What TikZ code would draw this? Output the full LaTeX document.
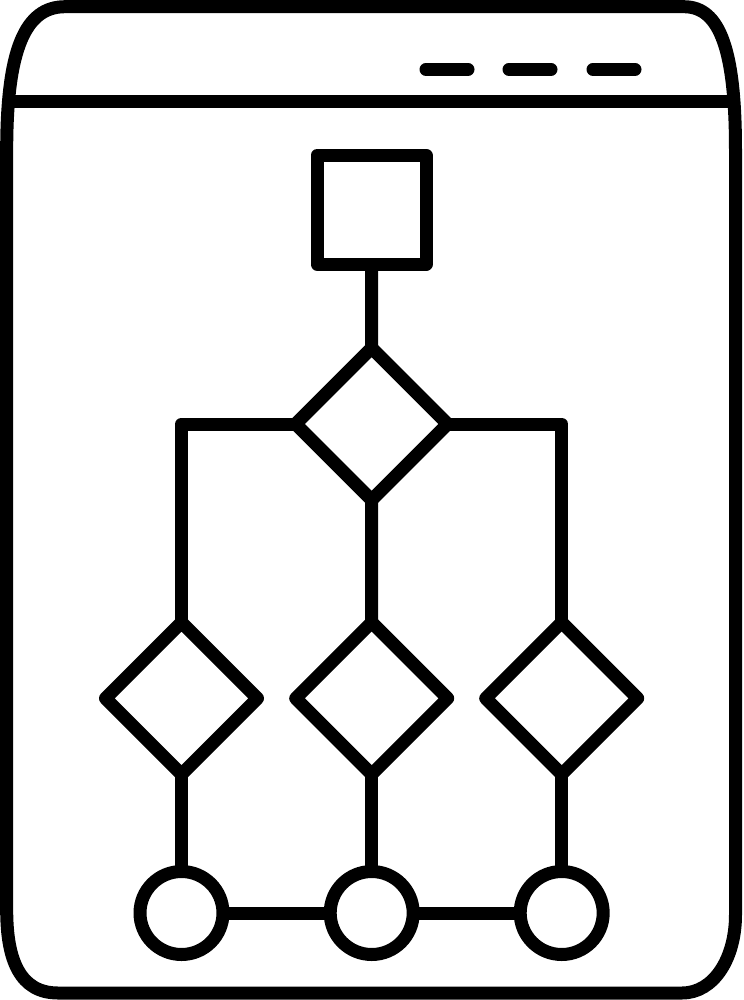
\documentclass[tikz,border=0pt]{standalone}
\usetikzlibrary{shapes.geometric}
\begin{document}
\begin{tikzpicture}[
  % GLOBAL CFG
  x=0.1mm, y=-0.1mm,
  line width=1.3mm,
  line join=round,
  % Styles
  window/.style={% For the browser outline
      draw,
      },
  winbtn/.style={% For the three bars in the title bar
      line cap=round,
      },
  task/.style={% For the top box
      rectangle,
      draw,
      minimum width=10.9mm,
      minimum height=10.9mm,
      inner sep=0pt,
      outer sep=0pt,
      },
  decision/.style={% For the diamonds
      diamond,
      draw,
      minimum width=15.2mm,
      minimum height=15.2mm,
      inner sep=0pt,
      outer sep=0pt,
      },
  terminal/.style={% For the circles at the bottom
      circle,
      draw,
      minimum size=8.3mm,
      inner sep=0pt,
      outer sep=0pt,
      },
  link/.style={% Connectors
      line cap=butt,
      },
  ]
  \useasboundingbox (0,0) rectangle (743,1000);

  % Draw the window:
  \draw [window] (6.7,150) .. controls (6.7,50) and (25,6.7) .. (65,6.7)
    -- (684,6.7) .. controls (720,6.7) and (735.5,50) .. (735.5,150)
    -- (735.5,915) .. controls (735.5,958) and (714,993) .. (682,993)
    -- (58,993) .. controls (20,993) and (6.7,960) .. (6.7,910) -- cycle;
  \coordinate (barL) at (8,101.7);
  \coordinate (barR) at (734,101.7);
  \draw (barL) -- (barR);
  \foreach \x in {447,530,614}
    \draw [winbtn] (\x-21,69.3) -- (\x+21,69.3);

  % The flow chart
  \node [task] (box) at (371.5,209.7) {};
  \node [decision] (cond0) at (371.6,424) {};
  \node [decision] (cond1) at (181.5,698.3) {};
  \node [decision] (cond2) at (371.7,698.3) {};
  \node [decision] (cond3) at (561.7,698.3) {};
  \node [terminal] (end1) at (181.5,913) {};
  \node [terminal] (end2) at (371.7,913) {};
  \node [terminal] (end3) at (561.7,913) {};

  \draw [link] (box) -- (cond0);
  \draw [link] (cond0.west) -| (cond1.north);
  \draw [link] (cond0.south) -- (cond2.north);
  \draw [link] (cond0.east) -| (cond3.north);
  \draw [link] (cond1.south) -- (end1.north);
  \draw [link] (cond2.south) -- (end2.north);
  \draw [link] (cond3.south) -- (end3.north);
  \draw [link] (end1) -- (end2);
  \draw [link] (end2) -- (end3);

\end{tikzpicture}
\end{document}
